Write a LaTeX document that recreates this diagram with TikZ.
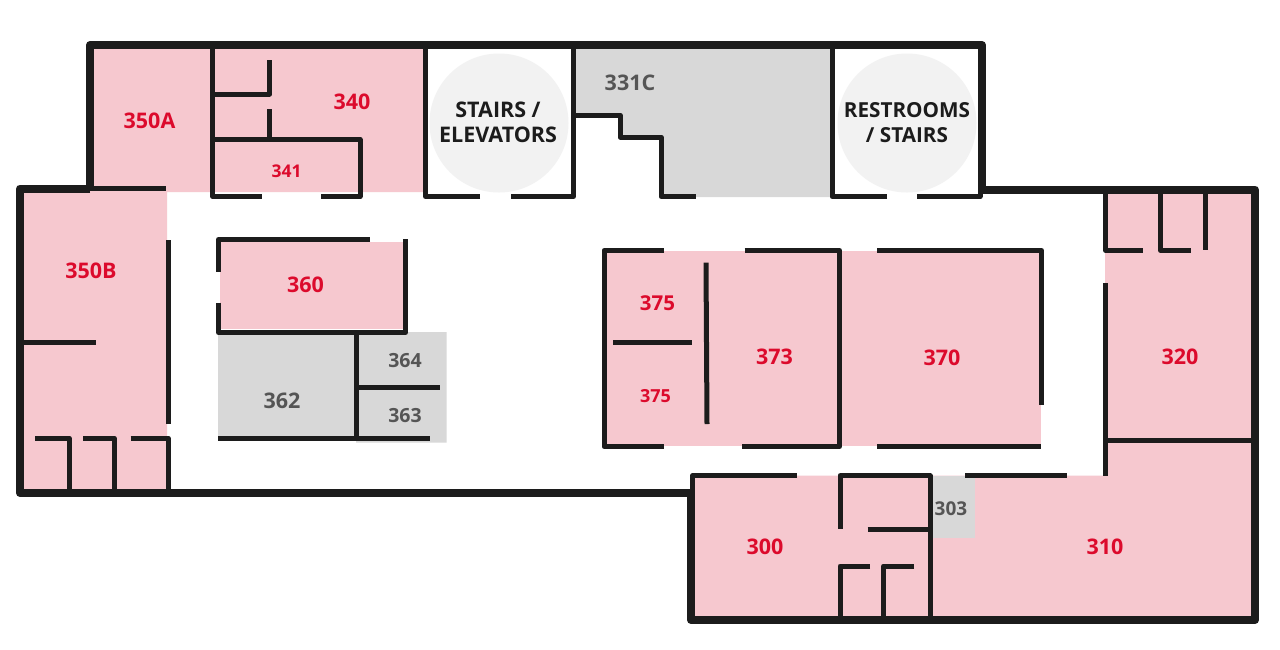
\documentclass[tikz,border=0pt]{standalone}
\usepackage{fontspec}
\setmainfont{Open Sans}
\definecolor{pinkroom}{HTML}{F6C8CF}
\definecolor{greyroom}{HTML}{D8D8D8}
\definecolor{wallcol}{HTML}{1C1C1C}
\definecolor{redtext}{HTML}{DC0A2C}
\definecolor{greytext}{HTML}{555555}
\definecolor{disc}{HTML}{F2F2F2}
\tikzset{
  thick wall/.style={draw=wallcol,line width=8pt,line join=round},
  thin wall/.style={draw=wallcol,line width=5pt,line join=round},
  pinkfill/.style={fill=pinkroom,draw=none},
  greyfill/.style={fill=greyroom,draw=none},
  roomlabel/.style={text=redtext,font=\bfseries\fontsize{#1}{#1}\selectfont,inner sep=0pt},
  greylabel/.style={text=greytext,font=\bfseries\fontsize{#1}{#1}\selectfont,inner sep=0pt},
  corelabel/.style={text=wallcol,font=\bfseries\fontsize{#1}{25}\selectfont,inner sep=0pt,align=center},
}
\begin{document}
\begin{tikzpicture}[x=1pt,y=-1pt]
\useasboundingbox (0,0) rectangle (1280,649);
\fill[white] (0,0) rectangle (1280,649);
% pink rooms
\path[pinkfill] (90,45) -- (426,45) -- (426,192) -- (167,192) -- (167,493) -- (20,493) -- (20,189) -- (90,189) -- cycle;
\path[pinkfill] (220,241.5) -- (405,241.5) -- (405,328.5) -- (220,328.5) -- cycle;
\path[pinkfill] (604,251) -- (1041,251) -- (1041,445.5) -- (604,445.5) -- cycle;
\path[pinkfill] (1105,189) -- (1255,189) -- (1255,620) -- (691,620) -- (691,475.5) -- (1105,475.5) -- cycle;
% grey rooms
\path[greyfill] (573,45) -- (832,45) -- (832,197) -- (661,197) -- (661,137) -- (620,137) -- (620,115) -- (573,115) -- cycle;
\path[greyfill] (218,332) -- (446.5,332) -- (446.5,442.5) -- (356,442.5) -- (356,438) -- (218,438) -- cycle;
\path[greyfill] (932,476) -- (974.5,476) -- (974.5,537.5) -- (932,537.5) -- cycle;
% discs
\fill[disc] (499,123) circle[radius=69.5];
\fill[disc] (907,123) circle[radius=69.5];
% outer walls
\draw[thick wall] (90,189) -- (90,45) -- (982,45) -- (982,189.5) -- (1255,189.5) -- (1255,620) -- (691,620) -- (691,493);
\draw[thick wall] (90,188.5) -- (20,188.5) -- (20,493) -- (691,493);
% north-west rooms
\draw[thin wall] (90,188.5) -- (166,188.5);
\draw[thin wall] (212.7,45) -- (212.7,196.5) -- (262,196.5);
\draw[thin wall] (321,196.5) -- (360,196.5) -- (360,139.5) -- (212.7,139.5);
\draw[thin wall] (269.5,60) -- (269.5,94) -- (212.7,94);
\draw[thin wall] (269.5,109) -- (269.5,139.5);
% core: stairs and elevators
\draw[thin wall] (480,196.5) -- (425.5,196.5) -- (425.5,45);
\draw[thin wall] (511,196.5) -- (573.5,196.5) -- (573.5,45);
% 331C
\draw[thin wall] (573.5,115) -- (620,115) -- (620,137) -- (661,137) -- (661,196.7) -- (696,196.7);
% restrooms
\draw[thin wall] (887,196.5) -- (832,196.5) -- (832,45);
\draw[thin wall] (917,196.5) -- (980,196.5) -- (980,189);
% 320
\draw[thin wall] (1105.5,189) -- (1105.5,250.3) -- (1143,250.3);
\draw[thin wall] (1160.5,189) -- (1160.5,250.3) -- (1191,250.3);
\draw[thin wall] (1205,189) -- (1205,250);
\draw[thin wall] (1105.5,283) -- (1105.5,476);
\draw[thin wall] (1105.5,440) -- (1255,440);
% 310 / 300
\draw[thin wall] (965,475.7) -- (1067,475.7);
\draw[thin wall] (797,475.7) -- (692.5,475.7) -- (692.5,493);
\draw[thin wall] (840,528.7) -- (840,475.7) -- (930,475.7) -- (930,620);
\draw[thin wall] (867.7,529.7) -- (930,529.7);
\draw[thin wall] (870,566) -- (840,566) -- (840,620);
\draw[thin wall] (914,566) -- (883.5,566) -- (883.5,620);
% 373 / 375 / 370
\draw[thin wall] (664,250.5) -- (604,250.5) -- (604,446.5) -- (664,446.5);
\draw[thin wall] (744.7,250.5) -- (839.5,250.5) -- (839.5,446.5) -- (741.7,446.5);
\draw[thin wall] (877,250.5) -- (1041.5,250.5) -- (1041.5,405);
\draw[thin wall] (877,446.5) -- (1041,446.5);
\draw[thin wall] (706,262.7) -- (707,424);
\draw[thin wall] (613.3,342.3) -- (692.3,342.3);
% 360
\draw[thin wall] (370,239.5) -- (218.5,239.5) -- (218.5,271.7);
\draw[thin wall] (218.5,302.7) -- (218.5,332.5) -- (405.5,332.5) -- (405.5,239);
% 362 / 363 / 364
\draw[thin wall] (356,332.5) -- (356,438.3);
\draw[thin wall] (356,387) -- (440,387);
\draw[thin wall] (218,438.3) -- (430,438.3);
% 350B
\draw[thin wall] (168,240) -- (168,424);
\draw[thin wall] (130.7,438) -- (168,438) -- (168,493);
\draw[thin wall] (83,438) -- (114,438) -- (114,493);
\draw[thin wall] (35,438) -- (69,438) -- (69,493);
\draw[thin wall] (20,342) -- (96,342);
% labels
\node[roomlabel=21.5] (r350a) at (149.5,121) {350A};
\node[roomlabel=21.5] (r340) at (352,102) {340};
\node[roomlabel=17.5] (r341) at (286.5,171) {341};
\node[roomlabel=21.5] (r350b) at (91,271) {350B};
\node[roomlabel=21.5] (r360) at (305.5,285) {360};
\node[greylabel=21.5] (r362) at (282,401) {362};
\node[greylabel=19.5] (r364) at (405,361) {364};
\node[greylabel=19.5] (r363) at (405,416) {363};
\node[greylabel=21.5] (r331c) at (630,83) {331C};
\node[corelabel=21.5] (stairs) at (498,122.5) {STAIRS /\\ELEVATORS};
\node[corelabel=20.7] (restrooms) at (907,122.5) {RESTROOMS\\/ STAIRS};
\node[roomlabel=20.5] (r375a) at (657.5,303) {375};
\node[roomlabel=18] (r375b) at (655.5,396) {375};
\node[roomlabel=21.5] (r373) at (774.5,357) {373};
\node[roomlabel=21.5] (r370) at (942,358) {370};
\node[roomlabel=21.5] (r320) at (1180,357) {320};
\node[roomlabel=21.5] (r300) at (765,547) {300};
\node[greylabel=19] (r303) at (951,509) {303};
\node[roomlabel=21.5] (r310) at (1105,547) {310};
\end{tikzpicture}
\end{document}
